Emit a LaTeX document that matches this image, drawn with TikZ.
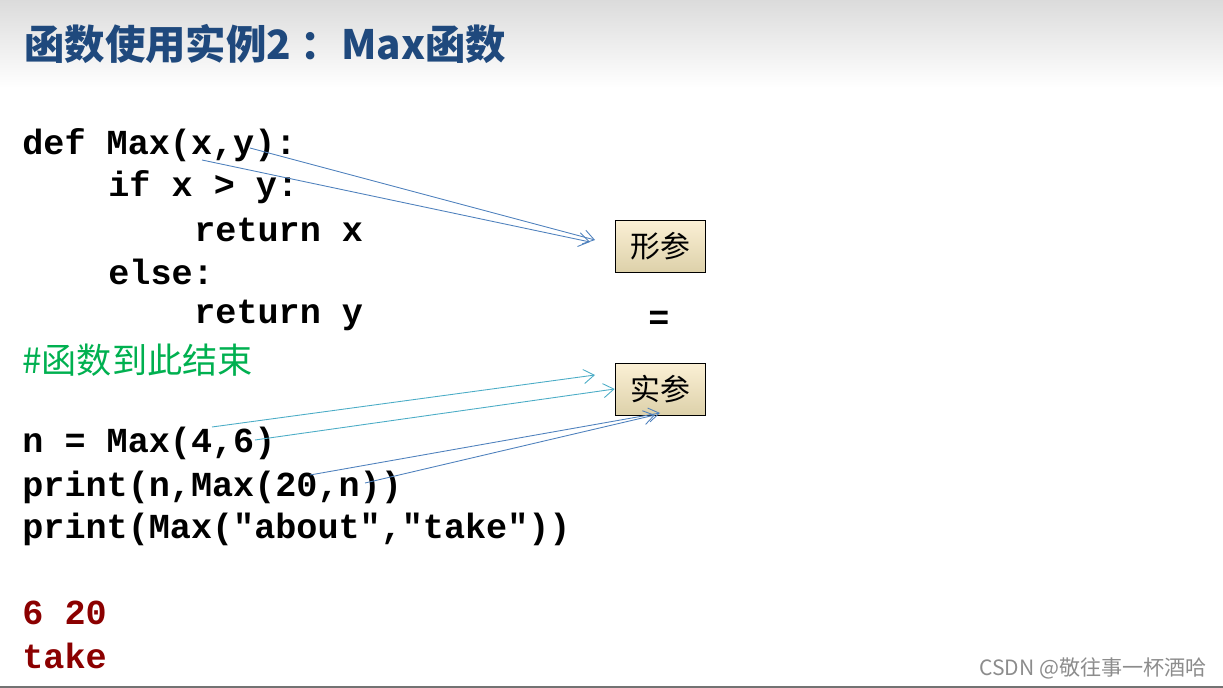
\documentclass[tikz,border=0pt]{standalone}
\usepackage{fontspec}
\setmonofont{Liberation Mono}
\newfontfamily\cjk{Noto Sans CJK SC}
\usetikzlibrary{arrows.meta,positioning}
\definecolor{titleblue}{HTML}{1F497D}
\definecolor{lineblue}{HTML}{4F81BD}
\definecolor{linecyan}{HTML}{4BACC6}
\definecolor{commentgreen}{HTML}{00B050}
\definecolor{outred}{HTML}{8B0000}
\definecolor{boxtop}{HTML}{FBF0D5}
\definecolor{boxbot}{HTML}{DDD1AA}
\tikzset{
  code/.style={anchor=west, inner sep=0pt, font=\ttfamily\bfseries\fontsize{20}{24}\selectfont},
  param/.style={draw=black, top color=boxtop, bottom color=boxbot, minimum width=1.8cm, minimum height=1.04cm, inner sep=0pt, font=\cjk\fontsize{17}{20}\selectfont},
  link/.style={-{Straight Barb[length=6pt,width=8pt]}, line width=0.5pt},
}
\begin{document}
\begin{tikzpicture}[x=0.02cm, y=-0.02cm]
		\useasboundingbox (0,0) rectangle (1223,688);
		\shade[top color=black!14, bottom color=white] (0,0) rectangle (1223,88);
		\draw[black!55, line width=1pt] (0,687) -- (1223,687);
		
		\node[anchor=west, inner sep=0pt, text=titleblue, font=\cjk\bfseries\fontsize{23}{28}\selectfont] (title) at (24,44) {函数使用实例2 ：Max函数};
		
		\foreach \t/\xx/\yy [count=\i] in {
		  {def Max(x,y):}/22/145, {if x > y:}/108/187, {return x}/194/230,
		  {else:}/108/272, {return y}/194/315, {n = Max(4,6)}/22/443,
		  {print(n,Max(20,n))}/22/487, {print(Max("about","take"))}/22/529}
		\node[code] (line-\i) at (\xx,\yy) {\t};
		
		\node[anchor=west, inner sep=0pt, text=commentgreen, font=\cjk\fontsize{20}{24}\selectfont] (comment) at (22,360) {\#函数到此结束};
		
		\node[code, text=outred] (out-1) at (22,613) {6 20};
		\node[code, text=outred] (out-2) at (22,656) {take};
		
		\node[param] (formal) at (660,246) {形参};
		\node[param] (actual) at (660,389) {实参};
		\node[code, anchor=center] (equals) at (659,320) {=};
		
		\coordinate (x-arg) at (202,160);
		\coordinate (y-arg) at (250,148);
		\coordinate (four) at (212,427);
		\coordinate (six) at (255,440);
		\coordinate (twenty) at (310,475);
		\coordinate (n-arg) at (365,483);
		
		\draw[link, lineblue] (y-arg) -- (595,240);
		\draw[link, lineblue] (x-arg) -- (590,242);
		\draw[link, linecyan] (four) -- (595,375);
		\draw[link, linecyan] (six) -- (actual.west);
		\draw[link, lineblue] (twenty) -- (660,413);
		\draw[link, lineblue] (n-arg) -- (655,415);
		
		\node[anchor=east, inner sep=0pt, text=black!45, font=\cjk\fontsize{12}{14}\selectfont] (mark) at (1207,668) {CSDN @敬往事一杯酒哈};
\end{tikzpicture}
\end{document}
